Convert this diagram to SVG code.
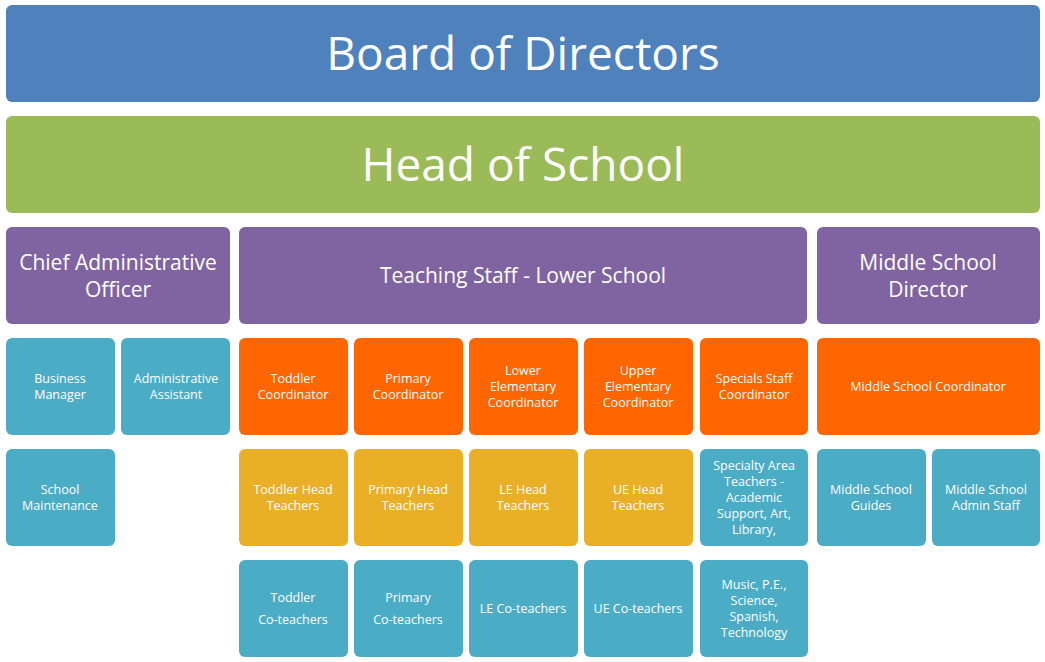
<svg xmlns="http://www.w3.org/2000/svg" width="1045" height="662" viewBox="0 0 1045 662">
<style>
rect{rx:6;ry:6}
.b{fill:#4F81BD}.g{fill:#9BBB59}.p{fill:#8064A2}.o{fill:#FF6600}.y{fill:#E9AF27}.t{fill:#4BACC6}
text{font-family:"Open Sans","Liberation Sans",sans-serif;fill:#fff;text-anchor:middle}
.L{font-size:46px}.M{font-size:21px}.s{font-size:12.5px}
</style>
<rect width="1045" height="662" fill="#fff" rx="0"/>
<g id="board"><rect class="b" x="6" y="5" width="1034" height="97"/><text class="L" x="523" y="70">Board of Directors</text></g>
<g id="head"><rect class="g" x="6" y="116" width="1034" height="97"/><text class="L" x="523" y="181">Head of School</text></g>
<g id="cao"><rect class="p" x="6" y="227" width="224" height="97"/><text class="M" x="118" y="270">Chief Administrative</text><text class="M" x="118" y="297">Officer</text></g>
<g id="teach"><rect class="p" x="239" y="227" width="568" height="97"/><text class="M" x="523" y="283">Teaching Staff - Lower School</text></g>
<g id="msd"><rect class="p" x="817" y="227" width="223" height="97"/><text class="M" x="928" y="270">Middle School</text><text class="M" x="928" y="297">Director</text></g>
<g id="bm"><rect class="t" x="6" y="338" width="109" height="97"/><text class="s" x="60" y="383">Business</text><text class="s" x="60" y="399">Manager</text></g>
<g id="aa"><rect class="t" x="121" y="338" width="109" height="97"/><text class="s" x="176" y="383">Administrative</text><text class="s" x="176" y="399">Assistant</text></g>
<g id="tc"><rect class="o" x="239" y="338" width="109" height="97"/><text class="s" x="293" y="383">Toddler</text><text class="s" x="293" y="399">Coordinator</text></g>
<g id="pc"><rect class="o" x="354" y="338" width="109" height="97"/><text class="s" x="408" y="383">Primary</text><text class="s" x="408" y="399">Coordinator</text></g>
<g id="lec"><rect class="o" x="469" y="338" width="109" height="97"/><text class="s" x="523" y="375">Lower</text><text class="s" x="523" y="391">Elementary</text><text class="s" x="523" y="407">Coordinator</text></g>
<g id="uec"><rect class="o" x="584" y="338" width="109" height="97"/><text class="s" x="638" y="375">Upper</text><text class="s" x="638" y="391">Elementary</text><text class="s" x="638" y="407">Coordinator</text></g>
<g id="sc"><rect class="o" x="700" y="338" width="108" height="97"/><text class="s" x="754" y="383">Specials Staff</text><text class="s" x="754" y="399">Coordinator</text></g>
<g id="msc"><rect class="o" x="817" y="338" width="223" height="97"/><text class="s" x="928" y="391">Middle School Coordinator</text></g>
<g id="sm"><rect class="t" x="6" y="449" width="109" height="97"/><text class="s" x="60" y="494">School</text><text class="s" x="60" y="510">Maintenance</text></g>
<g id="tht"><rect class="y" x="239" y="449" width="109" height="97"/><text class="s" x="293" y="494">Toddler Head</text><text class="s" x="293" y="510">Teachers</text></g>
<g id="pht"><rect class="y" x="354" y="449" width="109" height="97"/><text class="s" x="408" y="494">Primary Head</text><text class="s" x="408" y="510">Teachers</text></g>
<g id="leht"><rect class="y" x="469" y="449" width="109" height="97"/><text class="s" x="523" y="494">LE Head</text><text class="s" x="523" y="510">Teachers</text></g>
<g id="ueht"><rect class="y" x="584" y="449" width="109" height="97"/><text class="s" x="638" y="494">UE Head</text><text class="s" x="638" y="510">Teachers</text></g>
<g id="sat"><rect class="t" x="700" y="449" width="108" height="97"/><text class="s" x="754" y="470">Specialty Area</text><text class="s" x="754" y="486">Teachers -</text><text class="s" x="754" y="502">Academic</text><text class="s" x="754" y="518">Support, Art,</text><text class="s" x="754" y="534">Library,</text></g>
<g id="msg"><rect class="t" x="817" y="449" width="109" height="97"/><text class="s" x="871" y="494">Middle School</text><text class="s" x="871" y="510">Guides</text></g>
<g id="msa"><rect class="t" x="932" y="449" width="108" height="97"/><text class="s" x="986" y="494">Middle School</text><text class="s" x="986" y="510">Admin Staff</text></g>
<g id="tct"><rect class="t" x="239" y="560" width="109" height="97"/><text class="s" x="293" y="602">Toddler</text><text class="s" x="293" y="624">Co-teachers</text></g>
<g id="pct"><rect class="t" x="354" y="560" width="109" height="97"/><text class="s" x="408" y="602">Primary</text><text class="s" x="408" y="624">Co-teachers</text></g>
<g id="lect"><rect class="t" x="469" y="560" width="109" height="97"/><text class="s" x="523" y="613">LE Co-teachers</text></g>
<g id="uect"><rect class="t" x="584" y="560" width="109" height="97"/><text class="s" x="638" y="613">UE Co-teachers</text></g>
<g id="mus"><rect class="t" x="700" y="560" width="108" height="97"/><text class="s" x="754" y="589">Music, P.E.,</text><text class="s" x="754" y="605">Science,</text><text class="s" x="754" y="621">Spanish,</text><text class="s" x="754" y="637">Technology</text></g>
<g id="connectors"/>
</svg>
